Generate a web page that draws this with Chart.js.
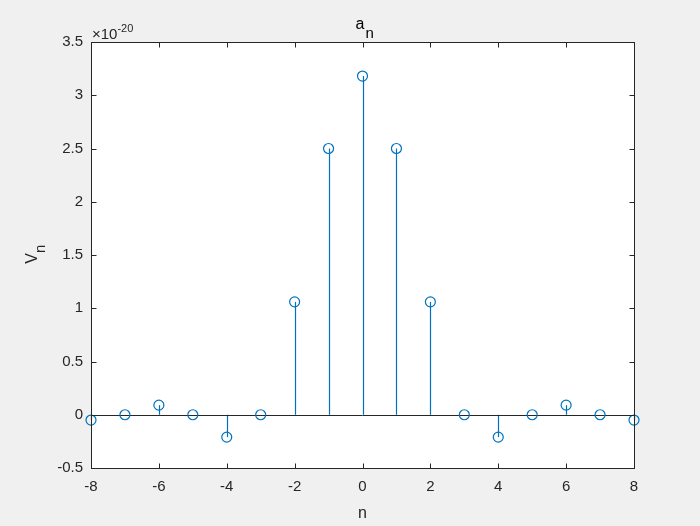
<!DOCTYPE html>
<html lang="en">

<head>
    <meta charset="UTF-8">
    <title>a_n stem plot</title>
    <script src="https://cdn.jsdelivr.net/npm/chart.js"></script>
    <style>
        html, body {
            margin: 0;
            padding: 0;
            background-color: #f0f0f0;
        }

        #wrap {
            width: 700px;
            height: 526px;
        }
    </style>
</head>

<body>

    <div id="wrap">
        <canvas id="myChart" width="700" height="526"></canvas>
    </div>

    <script>
        // Data (values in units of 1e-20)
        const nValues = [-8, -7, -6, -5, -4, -3, -2, -1, 0, 1, 2, 3, 4, 5, 6, 7, 8];
        const vValues = [-0.05, 0, 0.09, 0, -0.21, 0, 1.06, 2.5, 3.18, 2.5, 1.06, 0, -0.21, 0, 0.09, 0, -0.05];
        const xTicks = [-8, -6, -4, -2, 0, 2, 4, 6, 8];
        const yTicks = [-0.5, 0, 0.5, 1, 1.5, 2, 2.5, 3, 3.5];

        const axisColor = '#262626';
        const stemColor = '#0072BD';
        const fontFamily = '"Liberation Sans", Arial, Helvetica, sans-serif';

        // stems, baseline, box, inward ticks and the text bits
        const stemPlugin = {
            id: 'stemPlugin',
            beforeDatasetsDraw(chart) {
                const { ctx, chartArea, scales } = chart;
                const x = scales.x, y = scales.y;
                ctx.save();
                ctx.fillStyle = '#ffffff';
                ctx.fillRect(chartArea.left, chartArea.top, chartArea.right - chartArea.left, chartArea.bottom - chartArea.top);

                // stems
                ctx.strokeStyle = stemColor;
                ctx.lineWidth = 1.2;
                const y0 = y.getPixelForValue(0);
                nValues.forEach((n, i) => {
                    const px = Math.round(x.getPixelForValue(n)) + 0.5;
                    const py = y.getPixelForValue(vValues[i]);
                    ctx.beginPath();
                    ctx.moveTo(px, y0);
                    ctx.lineTo(px, py);
                    ctx.stroke();
                });

                // baseline
                ctx.strokeStyle = axisColor;
                ctx.lineWidth = 1;
                ctx.beginPath();
                ctx.moveTo(chartArea.left, Math.round(y0) + 0.5);
                ctx.lineTo(chartArea.right, Math.round(y0) + 0.5);
                ctx.stroke();
                ctx.restore();
            },
            afterDatasetsDraw(chart) {
                const { ctx, chartArea, scales } = chart;
                const x = scales.x, y = scales.y;
                const L = Math.round(chartArea.left) + 0.5;
                const R = Math.round(chartArea.right) + 0.5;
                const T = Math.round(chartArea.top) + 0.5;
                const B = Math.round(chartArea.bottom) + 0.5;
                const tick = 5;
                ctx.save();
                ctx.strokeStyle = axisColor;
                ctx.lineWidth = 1;
                ctx.strokeRect(L, T, R - L, B - T);

                ctx.beginPath();
                xTicks.forEach(v => {
                    const px = Math.round(x.getPixelForValue(v)) + 0.5;
                    ctx.moveTo(px, B); ctx.lineTo(px, B - tick);
                    ctx.moveTo(px, T); ctx.lineTo(px, T + tick);
                });
                yTicks.forEach(v => {
                    const py = Math.round(y.getPixelForValue(v)) + 0.5;
                    ctx.moveTo(L, py); ctx.lineTo(L + tick, py);
                    ctx.moveTo(R, py); ctx.lineTo(R - tick, py);
                });
                ctx.stroke();

                ctx.fillStyle = '#000000';
                ctx.textBaseline = 'alphabetic';

                // title a_n
                const cx = (chartArea.left + chartArea.right) / 2;
                ctx.font = '16px ' + fontFamily;
                ctx.textAlign = 'right';
                ctx.fillText('a', cx + 2, 29);
                ctx.font = '15px ' + fontFamily;
                ctx.textAlign = 'left';
                ctx.fillText('n', cx + 3, 38);

                // exponent label
                ctx.fillStyle = axisColor;
                ctx.font = '15px ' + fontFamily;
                ctx.textAlign = 'left';
                ctx.fillText('\u00d710', 92, 39);
                const expX = 92 + ctx.measureText('\u00d710').width;
                ctx.font = '11px ' + fontFamily;
                ctx.fillText('-20', expX, 32);

                // x label
                ctx.font = '16px ' + fontFamily;
                ctx.textAlign = 'center';
                ctx.fillText('n', cx, 518);

                // y label V_n
                const cy = (chartArea.top + chartArea.bottom) / 2;
                ctx.translate(37, cy + 2);
                ctx.rotate(-Math.PI / 2);
                ctx.font = '16px ' + fontFamily;
                ctx.textAlign = 'right';
                ctx.fillText('V', 4, 0);
                ctx.font = '15px ' + fontFamily;
                ctx.textAlign = 'left';
                ctx.fillText('n', 4, 8);
                ctx.restore();
            }
        };

        const points = nValues.map((n, i) => ({ x: n, y: vValues[i] }));

        new Chart(document.getElementById('myChart').getContext('2d'), {
            type: 'scatter',
            data: {
                datasets: [{
                    label: 'a_n',
                    data: points,
                    pointStyle: 'circle',
                    pointRadius: 5,
                    pointBorderWidth: 1.2,
                    borderColor: stemColor,
                    backgroundColor: 'rgba(0,0,0,0)',
                    clip: false
                }]
            },
            options: {
                responsive: false,
                animation: false,
                layout: {
                    padding: { left: 0, top: 42, right: 66, bottom: 0 }
                },
                plugins: {
                    legend: { display: false },
                    tooltip: { enabled: false },
                    title: { display: false }
                },
                scales: {
                    x: {
                        type: 'linear',
                        min: -8,
                        max: 8,
                        afterFit: s => { s.height = 58; },
                        afterBuildTicks: s => { s.ticks = xTicks.map(v => ({ value: v })); },
                        grid: { display: false, drawTicks: false },
                        border: { display: false },
                        ticks: {
                            color: axisColor,
                            padding: 10,
                            maxRotation: 0,
                            font: { family: fontFamily, size: 15 }
                        }
                    },
                    y: {
                        type: 'linear',
                        min: -0.5,
                        max: 3.5,
                        afterFit: s => { s.width = 91; },
                        afterBuildTicks: s => { s.ticks = yTicks.map(v => ({ value: v })); },
                        grid: { display: false, drawTicks: false },
                        border: { display: false },
                        ticks: {
                            color: axisColor,
                            padding: 8,
                            font: { family: fontFamily, size: 15 },
                            callback: v => String(v)
                        }
                    }
                }
            },
            plugins: [stemPlugin]
        });
    </script>

</body>

</html>
